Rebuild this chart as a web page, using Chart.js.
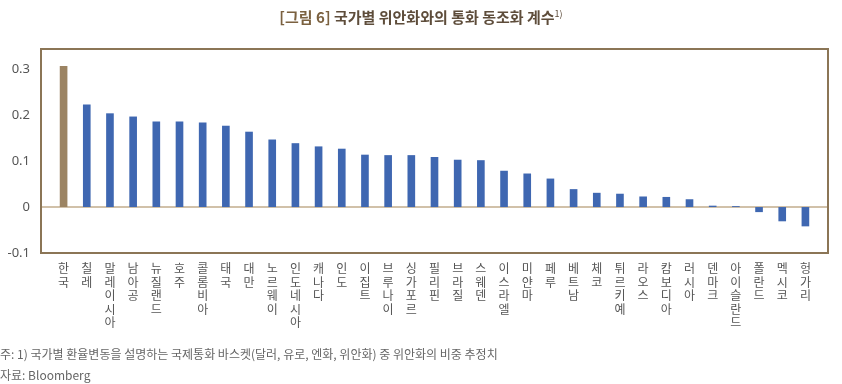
<!DOCTYPE html>
<html>
<head>
<meta charset="utf-8">
<script src="https://cdn.jsdelivr.net/npm/chart.js@4/dist/chart.umd.min.js"></script>
<style>
  body { margin: 0; background: #fff; font-family: "Noto Sans CJK KR", "Noto Sans", sans-serif; }
  #wrap { position: relative; width: 842px; height: 384px; overflow: hidden; }
  #title { position: absolute; left: 0; width: 842px; top: 6px; text-align: center; font-size: 15px; font-weight: bold; color: #5e4d3b; }
  #title .tag { color: #7b6140; }
  #title sup { font-size: 9px; font-weight: normal; }
  .note { position: absolute; left: 0; font-size: 12px; color: #666; }
</style>
</head>
<body>
<div id="wrap">
  <canvas id="chart" width="842" height="384"></canvas>
  <div id="title"><span class="tag">[그림 6]</span> 국가별 위안화와의 통화 동조화 계수<sup>1)</sup></div>
  <div class="note" style="top:345px">주: 1) 국가별 환율변동을 설명하는 국제통화 바스켓(달러, 유로, 엔화, 위안화) 중 위안화의 비중 추정치</div>
  <div class="note" style="top:366px">자료: Bloomberg</div>
</div>
<script>
const countries = [
  "한국", "칠레", "말레이시아", "남아공", "뉴질랜드", "호주", "콜롬비아", "태국", "대만", "노르웨이", "인도네시아",
  "캐나다", "인도", "이집트", "브루나이", "싱가포르", "필리핀", "브라질", "스웨덴", "이스라엘", "미얀마", "페루",
  "베트남", "체코", "튀르키예", "라오스", "캄보디아", "러시아", "덴마크", "아이슬란드", "폴란드", "멕시코", "헝가리"
];
const coefficients = [
  0.307, 0.223, 0.204, 0.197, 0.186, 0.186, 0.184, 0.177, 0.164, 0.147, 0.139,
  0.132, 0.127, 0.114, 0.113, 0.113, 0.109, 0.103, 0.102, 0.079, 0.073, 0.062,
  0.039, 0.031, 0.029, 0.023, 0.022, 0.017, 0.003, 0.002, -0.011, -0.031, -0.042
];
const yTicks = [-0.1, 0, 0.1, 0.2, 0.3];

const brown = "#8b7556";
const korea = "#9c8463";
const blue = "#3f67b1";

// frame around plot + zero line
const framePlugin = {
  id: "frame",
  beforeDatasetsDraw(chart) {
    const { ctx, chartArea, scales } = chart;
    const y0 = scales.y.getPixelForValue(0);
    ctx.save();
    ctx.strokeStyle = "#c2ad8c";
    ctx.lineWidth = 1.5;
    ctx.beginPath();
    ctx.moveTo(chartArea.left - 11, y0);
    ctx.lineTo(chartArea.right + 11, y0);
    ctx.stroke();
    ctx.restore();
  },
  afterDatasetsDraw(chart) {
    const { ctx, chartArea } = chart;
    ctx.save();
    ctx.strokeStyle = brown;
    ctx.lineWidth = 2;
    ctx.strokeRect(chartArea.left - 11, chartArea.top, chartArea.right - chartArea.left + 22, chartArea.bottom - chartArea.top);
    ctx.restore();
  }
};

new Chart(document.getElementById("chart"), {
  type: "bar",
  data: {
    labels: countries.map((c) => c.split("")),
    datasets: [
      {
        data: coefficients,
        backgroundColor: countries.map((c, i) => (i === 0 ? korea : blue)),
        barPercentage: 0.33,
        categoryPercentage: 1,
      },
    ],
  },
  options: {
    responsive: false,
    animation: false,
    layout: { padding: { top: 49, right: 25, left: 0, bottom: 0 } },
    plugins: {
      legend: { display: false },
      title: { display: false },
      tooltip: { enabled: false },
    },
    scales: {
      x: {
        grid: { display: false, drawTicks: false },
        border: { display: false },
        ticks: {
          autoSkip: false,
          maxRotation: 0,
          padding: 9,
          color: "#555",
          font: { family: "Noto Sans CJK KR", size: 12, lineHeight: 1.12 },
        },
        afterFit(scale) {
          scale.height = 131;
        },
      },
      y: {
        min: -0.1,
        max: 0.344,
        grid: { display: false, drawTicks: false },
        border: { display: false },
        afterBuildTicks(scale) {
          scale.ticks = yTicks.map((v) => ({ value: v }));
        },
        ticks: {
          padding: 22,
          color: "#555",
          font: { family: "Noto Sans", size: 13 },
          callback: (v) => (v === 0 ? "0" : v.toFixed(1)),
        },
        afterFit(scale) {
          scale.width = 52;
        },
      },
    },
  },
  plugins: [framePlugin],
});
</script>
</body>
</html>
